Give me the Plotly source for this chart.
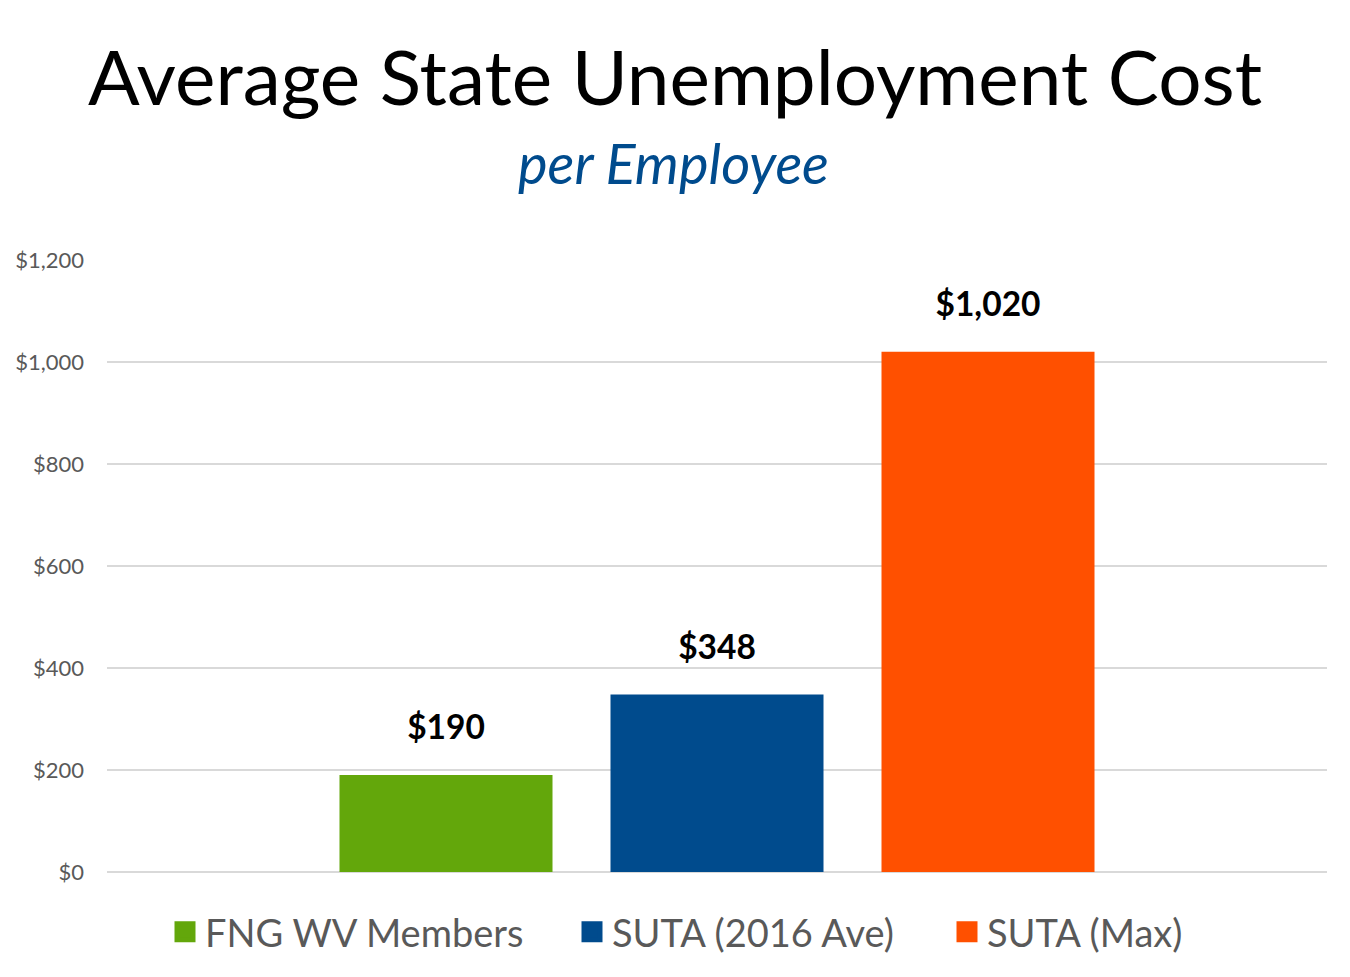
import plotly.graph_objects as go

# ---- data ----
category = ["Average State Unemployment Cost"]
series_names = ["FNG WV Members", "SUTA (2016 Ave)", "SUTA (Max)"]
series_values = [190, 348, 1020]
series_colors = ["#63A70B", "#004B8D", "#FF5000"]
y_ticks = [0, 200, 400, 600, 800, 1000, 1200]
y_tick_labels = ["$0", "$200", "$400", "$600", "$800", "$1,000", "$1,200"]

FONT = "Lato"
legend_left_px = [165, 572, 947]  # legend box left edges (layout)

fig = go.Figure()
for name, val, col in zip(series_names, series_values, series_colors):
    fig.add_trace(go.Bar(
        x=category, y=[val], name=name, marker=dict(color=col, line=dict(width=0)),
        hoverinfo="skip", offsetgroup=name, showlegend=False,
    ))
for name, val in zip(series_names, series_values):
    fig.add_trace(go.Scatter(
        x=category, y=[val], mode="markers+text",
        text=[f"<b>${val:,}</b>"], textposition="top center",
        textfont=dict(family=FONT, size=33.5, color="#000000"),
        marker=dict(size=42, opacity=0), showlegend=False, hoverinfo="skip",
        cliponaxis=False, offsetgroup=name,
    ))
# legend keys (one legend per series so each can be placed like the original)
legend_layouts = {}
for i, (name, col) in enumerate(zip(series_names, series_colors)):
    key = "legend" if i == 0 else f"legend{i + 1}"
    fig.add_trace(go.Scatter(
        x=[None], y=[None], mode="markers", name=name, legend=key,
        marker=dict(symbol="square", size=16, color=col, line=dict(width=5, color=col)),
        hoverinfo="skip", offsetgroup=name, showlegend=True,
    ))
    legend_layouts[key] = dict(
        orientation="h", x=(legend_left_px[i] - 107) / 1220, xanchor="left",
        y=-(932 - 872) / 612, yanchor="middle", bgcolor="rgba(0,0,0,0)",
        font=dict(family=FONT, size=38, color="#595959"),
    )

fig.update_layout(
    width=1350, height=977,
    paper_bgcolor="white", plot_bgcolor="white",
    margin=dict(l=107, r=23, t=260, b=105),
    barmode="group", bargap=0.3336, bargroupgap=0.214,
    scattermode="group", scattergap=0.3336,
    title=dict(text="Average State Unemployment Cost", x=0.5, xanchor="center",
               y=1 - 78 / 977, yanchor="middle", yref="container",
               font=dict(family=FONT, size=76.5, color="#000000")),
    annotations=[dict(text="<i>per Employee</i>", xref="paper", yref="paper",
                      x=(673.5 - 107) / 1220, y=(872 - 163) / 612,
                      xanchor="center", yanchor="middle", showarrow=False,
                      font=dict(family=FONT, size=56, color="#004B8D"))],
    showlegend=True,
    xaxis=dict(showticklabels=False, showgrid=False, zeroline=False, showline=False, ticks=""),
    yaxis=dict(range=[0, 1200], tickmode="array", tickvals=y_ticks, ticktext=y_tick_labels,
               showgrid=True, gridcolor="#D9D9D9", gridwidth=2,
               zeroline=True, zerolinecolor="#D9D9D9", zerolinewidth=2,
               showline=False, ticks="", ticklabelstandoff=22,
               tickfont=dict(family=FONT, size=22, color="#595959")),
    **legend_layouts,
)

fig.write_html("out.html")
